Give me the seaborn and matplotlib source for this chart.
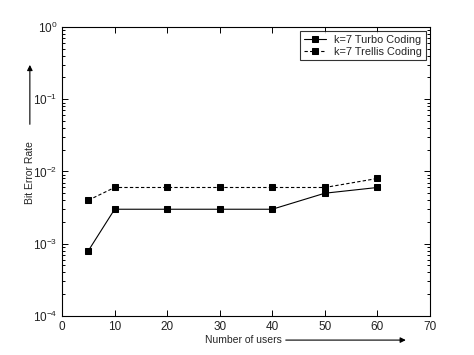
import pandas as pd
import matplotlib
matplotlib.use("Agg")
import matplotlib.pyplot as plt
import seaborn as sns
from matplotlib.ticker import LogLocator, NullFormatter

users = [5, 10, 20, 30, 40, 50, 60]
turbo_ber = [8e-4, 3e-3, 3e-3, 3e-3, 3e-3, 5e-3, 6e-3]
trellis_ber = [4e-3, 6e-3, 6e-3, 6e-3, 6e-3, 6e-3, 8e-3]
series_names = ["k=7 Turbo Coding", "k=7 Trellis Coding"]

df = pd.DataFrame({
    "users": users * 2,
    "ber": turbo_ber + trellis_ber,
    "coding": [series_names[0]] * len(users) + [series_names[1]] * len(users),
})

sns.set_style("ticks")
plt.rcParams["font.family"] = ["Liberation Sans", "DejaVu Sans"]

fig = plt.figure(figsize=(4.74, 3.55), dpi=100)
ax = fig.add_axes([0.131, 0.110, 0.776, 0.814])

sns.lineplot(data=df, x="users", y="ber", hue="coding", style="coding",
             palette=["black", "black"], dashes=[(None, None), (3, 2)],
             markers=["s", "s"], markersize=5, markeredgecolor="black",
             linewidth=0.8, ax=ax)
# solid line for the first style
ax.lines[0].set_linestyle("-")

ax.set_yscale("log")
ax.set_ylim(1e-4, 1)
ax.set_xlim(0, 70)
ax.set_xticks(range(0, 71, 10))
ax.yaxis.set_major_locator(LogLocator(base=10, numticks=10))
ax.yaxis.set_minor_locator(LogLocator(base=10, subs=range(2, 10), numticks=10))
ax.yaxis.set_minor_formatter(NullFormatter())
ax.tick_params(which="both", direction="in", top=True, right=True,
               labelsize=8.5, color="black", width=0.7, labelcolor="#222222")
ax.tick_params(which="major", length=4)
ax.tick_params(which="minor", length=2)
for s in ax.spines.values():
    s.set_linewidth(0.8)
    s.set_color("black")
ax.set_xlabel("")
ax.set_ylabel("")

leg = ax.legend(loc="upper right", fontsize=7.9, frameon=True, fancybox=False,
                edgecolor="black", borderpad=0.3, handlelength=2.0,
                labelspacing=0.2, borderaxespad=0.4)
leg.get_frame().set_linewidth(0.8)

fig.text(0.063, 0.515, "Bit Error Rate", rotation=90, ha="center",
         va="center", fontsize=7.5)
fig.text(0.513, 0.042, "Number of users", ha="center", va="center",
         fontsize=7.5)
fig.patches.append(matplotlib.patches.FancyArrowPatch(
    (0.063, 0.642), (0.063, 0.825), transform=fig.transFigure,
    arrowstyle="-|>", mutation_scale=8, color="black", linewidth=0.8))
fig.patches.append(matplotlib.patches.FancyArrowPatch(
    (0.597, 0.042), (0.862, 0.042), transform=fig.transFigure,
    arrowstyle="-|>", mutation_scale=8, color="black", linewidth=0.8))

fig.savefig("out.png", dpi=100)
